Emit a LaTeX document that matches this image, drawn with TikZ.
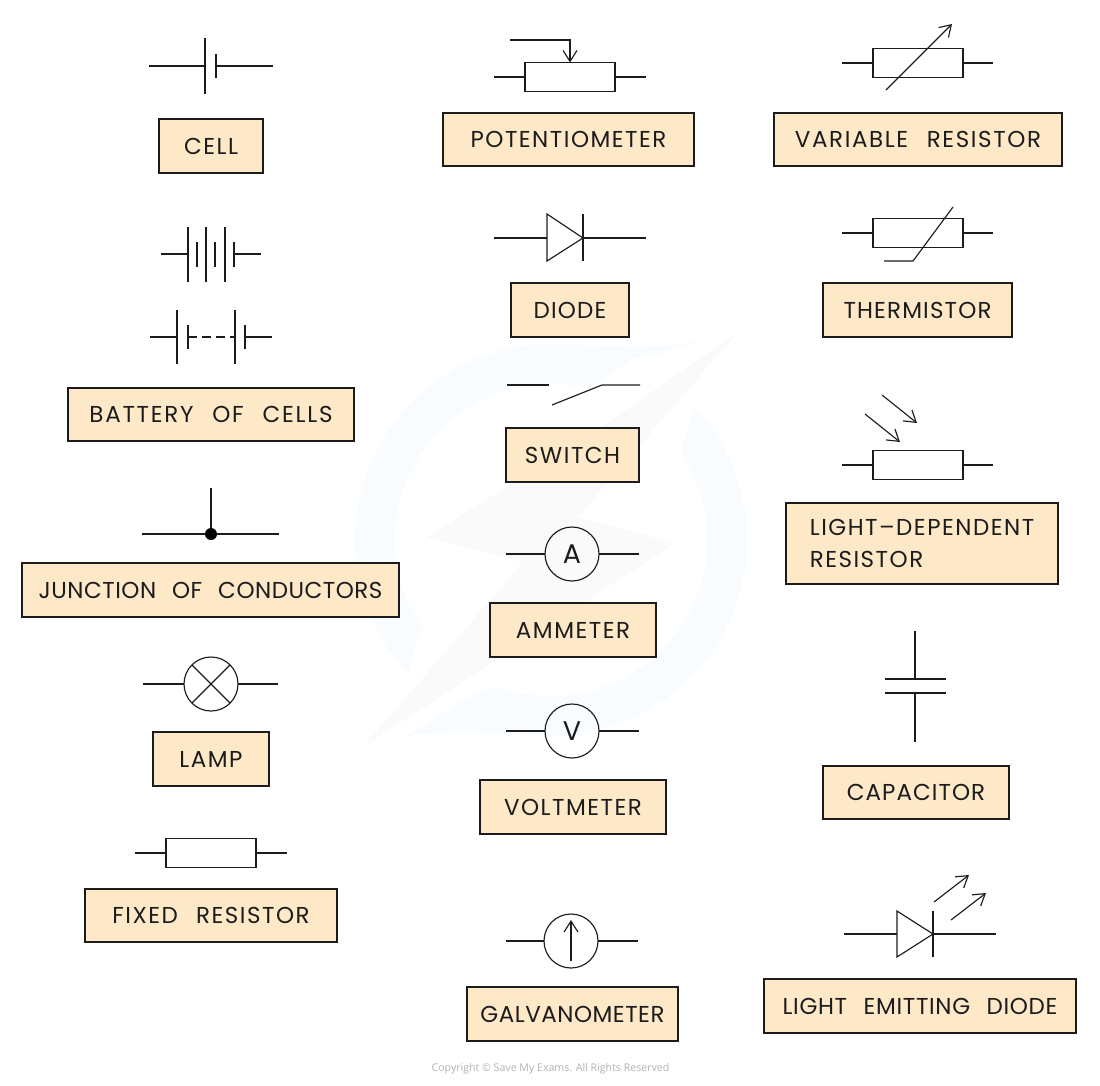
\documentclass[tikz,border=0pt]{standalone}
\usepackage{fontspec}
\setmainfont[WordSpace=2.4,LetterSpace=6.5]{Poppins}
\newfontfamily\copyfont{Open Sans}
\usetikzlibrary{arrows.meta}
\definecolor{labelfill}{HTML}{FDE8C8}
\definecolor{inkline}{HTML}{1C1C1C}
\definecolor{ringmark}{HTML}{F8FCFE}
\definecolor{boltmark}{HTML}{FAFAFA}
\tikzset{
  wire/.style={line width=1.15pt,draw=inkline},
  boxlabel/.style={draw=inkline,line width=1.15pt,fill=labelfill,text=inkline,inner sep=0pt,outer sep=0pt,minimum height=54pt,font=\fontsize{23}{32}\selectfont},
  spaced/.style={font=\fontsize{23}{32}\selectfont\addfontfeatures{LetterSpace=#1}},
  resbody/.style={wire,rectangle,inner sep=0pt,outer sep=0pt,minimum width=90pt,minimum height=29pt},
  meter/.style={wire,circle,inner sep=0pt,outer sep=0pt,minimum size=54pt,text=inkline,font=\fontsize{27}{30}\selectfont},
  barb/.style={wire,-{Straight Barb[length=11pt,width=14pt]}}
}
\begin{document}
\begin{tikzpicture}[x=1pt,y=-1pt]
  \useasboundingbox (0,0) rectangle (1100,1085);

  \fill[ringmark] plot[smooth,domain=137:270,samples=40] ({551+196*cos(\x)},{540+196*sin(\x)})
     .. controls (600,344) and (650,352) .. (700,340) .. controls (670,352) and (650,356) .. (633,358)
     -- plot[smooth,domain=285:146,samples=40] ({551+156*cos(\x)},{540+156*sin(\x)}) -- cycle;
  \fill[ringmark] plot[smooth,domain=-43:100,samples=40] ({551+196*cos(\x)},{540+196*sin(\x)})
     .. controls (480,733) and (440,730) .. (403,737) .. controls (435,720) and (465,695) .. (497,687)
     -- plot[smooth,domain=110:-34,samples=40] ({551+156*cos(\x)},{540+156*sin(\x)}) -- cycle;
  \fill[boltmark] (738,332)--(578,517)--(675,543)--(363,747)--(523,562)--(427,537)--(597,430)--cycle;

  \node[boxlabel,minimum width=104pt] (celllabel) at (211,146) {CELL};
  \node[boxlabel,spaced=7.5,minimum width=286pt,minimum height=53pt] (batterylabel) at (211,414.5) {BATTERY OF CELLS};
  \node[boxlabel,spaced=2.2,minimum width=377pt] (junctionlabel) at (210.5,590) {JUNCTION OF CONDUCTORS};
  \node[boxlabel,minimum width=116pt] (lamplabel) at (211,759) {LAMP};
  \node[boxlabel,minimum width=252pt,minimum height=53pt] (fixedlabel) at (211,915.5) {FIXED RESISTOR};
  \node[boxlabel,minimum width=251pt,minimum height=53pt] (potlabel) at (568.5,139.5) {POTENTIOMETER};
  \node[boxlabel,spaced=5,minimum width=118pt] (diodelabel) at (570,310) {DIODE};
  \node[boxlabel,minimum width=133pt] (switchlabel) at (572.5,455) {SWITCH};
  \node[boxlabel,minimum width=166pt] (ammeterlabel) at (573,630) {AMMETER};
  \node[boxlabel,minimum width=186pt] (voltlabel) at (573,807) {VOLTMETER};
  \node[boxlabel,spaced=2.2,minimum width=211pt] (galvlabel) at (572.5,1014) {GALVANOMETER};
  \node[boxlabel,spaced=7,minimum width=288pt,minimum height=53pt] (varlabel) at (918,139.5) {VARIABLE RESISTOR};
  \node[boxlabel,spaced=5,minimum width=189pt] (thermlabel) at (917.5,310) {THERMISTOR};
  \node[boxlabel,minimum width=272pt,minimum height=81pt,align=left] (ldrlabel) at (922,543.5) {LIGHT–DEPENDENT\\RESISTOR};
  \node[boxlabel,spaced=4.5,minimum width=186pt,minimum height=53pt] (caplabel) at (916,792.5) {CAPACITOR};
  \node[boxlabel,spaced=3,minimum width=312pt] (ledlabel) at (920,1006) {LIGHT EMITTING DIODE};

  \draw[wire] (149,66)--(205,66);
  \draw[wire] (205,38)--(205,94);
  \draw[wire] (216,54)--(216,78);
  \draw[wire] (216,66)--(273,66);

  \draw[wire] (161,254)--(188,254);
  \foreach \xa in {188,206,225} {
    \draw[wire] (\xa,227)--(\xa,282);
  }
  \foreach \xa in {197,215,234} {
    \draw[wire] (\xa,242)--(\xa,267);
  }
  \draw[wire] (234,254)--(261,254);

  \draw[wire] (150,337)--(177,337);
  \draw[wire] (177,310)--(177,364);
  \draw[wire] (188,325)--(188,349);
  \draw[wire,dash pattern=on 9pt off 5pt] (188,337)--(235,337);
  \draw[wire] (235,310)--(235,364);
  \draw[wire] (245,325)--(245,349);
  \draw[wire] (245,337)--(272,337);

  \node[circle,fill=black,inner sep=0pt,minimum size=12pt] (joint) at (211,534) {};
  \coordinate (jointl) at (142,534);
  \coordinate (jointr) at (279,534);
  \coordinate (jointt) at (211,488);
  \draw[wire] (jointl)--(joint);
  \draw[wire] (joint)--(jointr);
  \draw[wire] (jointt)--(joint);

  \node[meter] (lamp) at (211,684) {};
  \coordinate (lampl) at (143,684);
  \coordinate (lampr) at (278,684);
  \draw[wire] (lampl)--(lamp);
  \draw[wire] (lamp)--(lampr);
  \draw[wire] (lamp.45)--(lamp.225);
  \draw[wire] (lamp.135)--(lamp.315);

  \node[resbody] (fixed) at (211,853) {};
  \coordinate (fixedl) at (135,853);
  \coordinate (fixedr) at (287,853);
  \draw[wire] (fixedl)--(fixed);
  \draw[wire] (fixed)--(fixedr);

  \node[resbody] (pot) at (570,77) {};
  \coordinate (potl) at (494,77);
  \coordinate (potr) at (646,77);
  \coordinate (pottail) at (510,40);
  \draw[wire] (potl)--(pot);
  \draw[wire] (pot)--(potr);
  \draw[barb] (pottail)-|(pot.north);

  \coordinate (diodel) at (494,238);
  \coordinate (dioder) at (646,238);
  \draw[wire] (547,214)--(547,261)--(583,238)--cycle;
  \draw[wire] (583,214)--(583,261);
  \draw[wire] (diodel)--(547,238);
  \draw[wire] (583,238)--(dioder);

  \draw[wire] (507,385)--(549,385);
  \draw[wire] (552,405)--(602,385)--(640,385);

  \node[meter] (ammeter) at (572,554) {A};
  \coordinate (ammeterl) at (506,554);
  \coordinate (ammeterr) at (639,554);
  \draw[wire] (ammeterl)--(ammeter);
  \draw[wire] (ammeter)--(ammeterr);

  \node[meter] (voltmeter) at (572,731) {V};
  \coordinate (voltl) at (506,731);
  \coordinate (voltr) at (639,731);
  \draw[wire] (voltl)--(voltmeter);
  \draw[wire] (voltmeter)--(voltr);

  \node[meter] (galv) at (571,941) {};
  \coordinate (galvl) at (506,941);
  \coordinate (galvr) at (638,941);
  \coordinate (galvtail) at (571,961);
  \coordinate (galvtip) at (571,920);
  \draw[wire] (galvl)--(galv);
  \draw[wire] (galv)--(galvr);
  \draw[barb] (galvtail)--(galvtip);

  \node[resbody] (var) at (918,63) {};
  \coordinate (varl) at (842,63);
  \coordinate (varr) at (993,63);
  \coordinate (vartail) at (886,90);
  \coordinate (vartip) at (952,24);
  \draw[wire] (varl)--(var);
  \draw[wire] (var)--(varr);
  \draw[barb] (vartail)--(vartip);

  \node[resbody] (therm) at (918,233) {};
  \coordinate (therml) at (842,233);
  \coordinate (thermr) at (993,233);
  \draw[wire] (therml)--(therm);
  \draw[wire] (therm)--(thermr);
  \draw[wire] (884,261)--(913,261)--(953,207);

  \node[resbody] (ldr) at (918,465) {};
  \coordinate (ldrl) at (842,465);
  \coordinate (ldrr) at (993,465);
  \draw[wire] (ldrl)--(ldr);
  \draw[wire] (ldr)--(ldrr);
  \draw[barb] (865,414)--(900,442);
  \draw[barb] (882,395)--(917,423);

  \draw[wire] (915,631)--(915,679);
  \draw[wire] (885,679)--(946,679);
  \draw[wire] (885,693)--(946,693);
  \draw[wire] (915,693)--(915,742);

  \coordinate (ledl) at (844,934);
  \coordinate (ledr) at (996,934);
  \draw[wire] (897,911)--(897,957)--(933,934)--cycle;
  \draw[wire] (933,911)--(933,957);
  \draw[wire] (ledl)--(897,934);
  \draw[wire] (933,934)--(ledr);
  \draw[barb] (934,902)--(969,875);
  \draw[barb] (951,920)--(986,893);

  \node[text=black!30,font=\copyfont\fontsize{10.6}{13}\selectfont] (copyline) at (550.5,1069) {Copyright © Save My Exams. All Rights Reserved};
\end{tikzpicture}
\end{document}
